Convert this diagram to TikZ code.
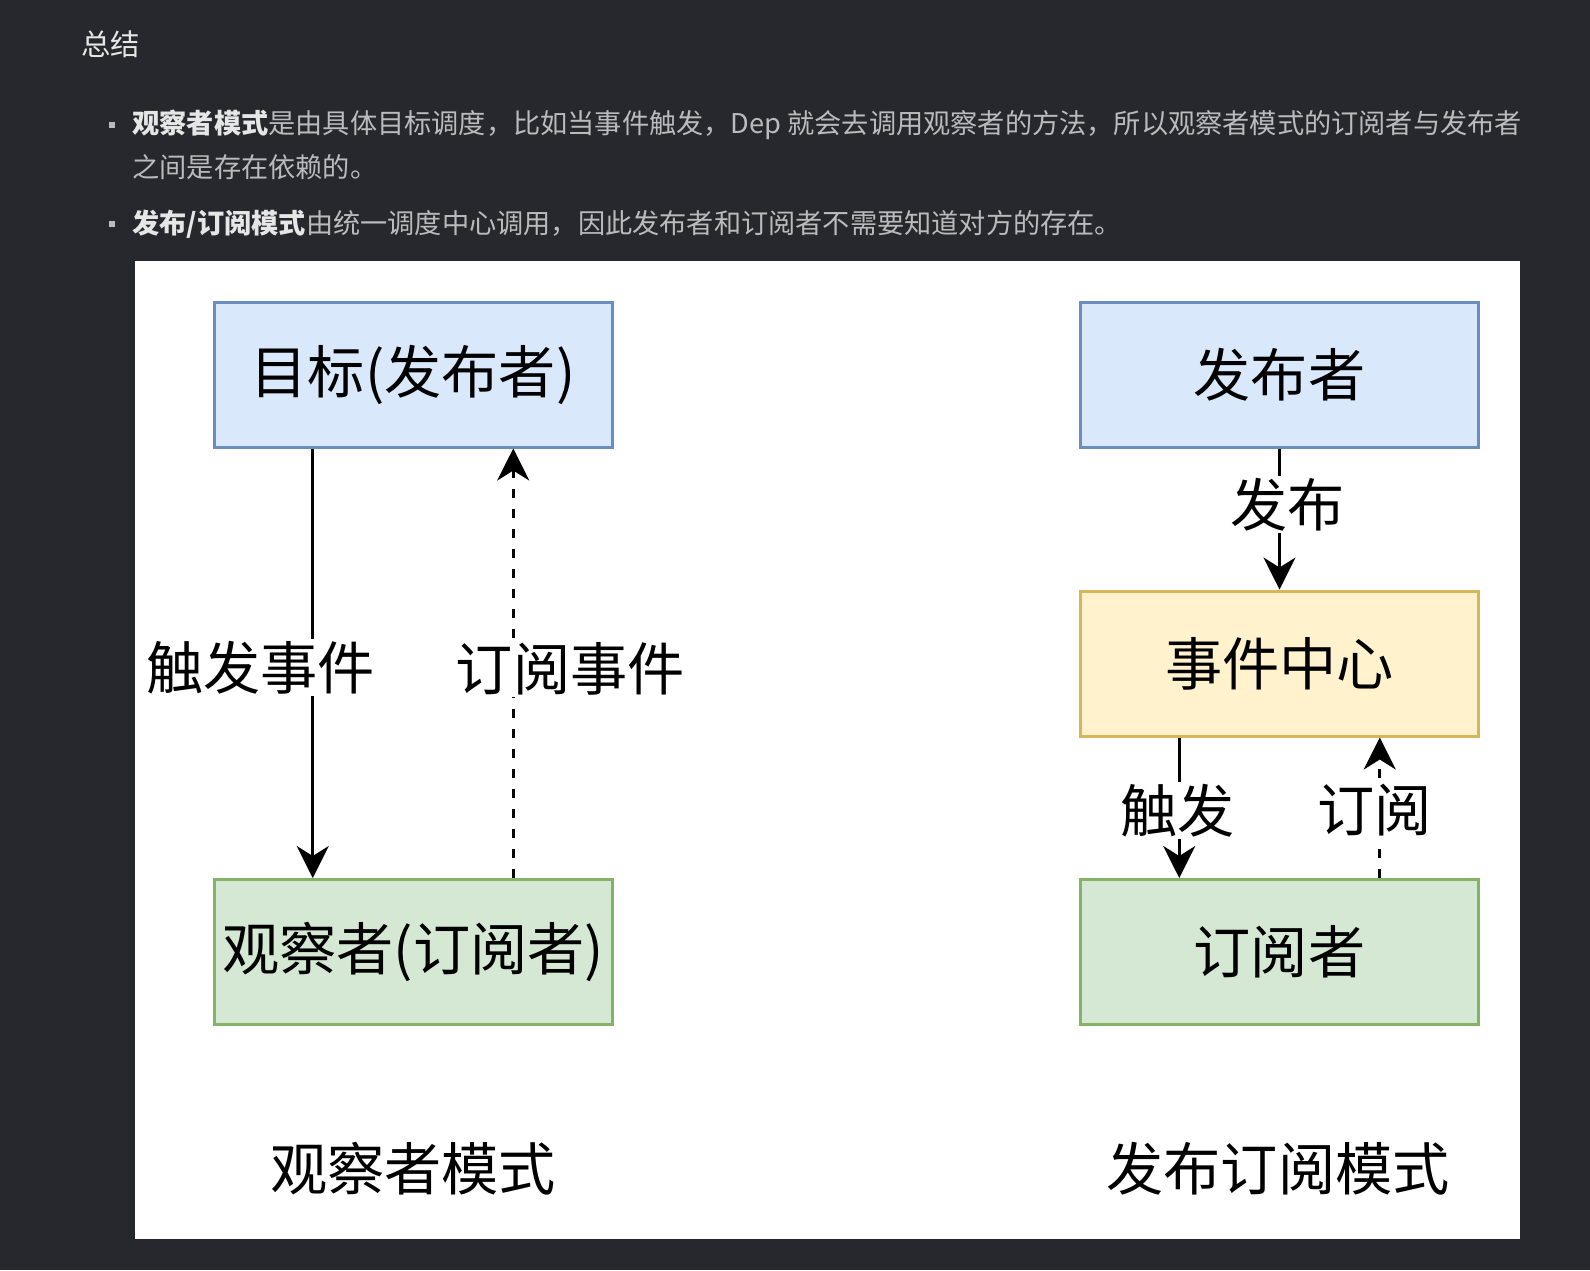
\documentclass[tikz,border=0pt]{standalone}
\usepackage{fontspec}
\setmainfont{Noto Sans CJK SC}
\usepackage{tikz}
\usetikzlibrary{calc, arrows.meta, positioning}

\definecolor{pagebg}{HTML}{26282D}
\definecolor{notegray}{HTML}{B9BBBE}
\definecolor{noteheavy}{HTML}{E6E6E6}
\definecolor{blueFill}{HTML}{DAE8FC}
\definecolor{blueLine}{HTML}{6C8EBF}
\definecolor{greenFill}{HTML}{D5E8D4}
\definecolor{greenLine}{HTML}{82B366}
\definecolor{yellowFill}{HTML}{FFF2CC}
\definecolor{yellowLine}{HTML}{D6B656}

\newcommand{\diagtxt}{\fontsize{28.6pt}{34pt}\selectfont}
\newcommand{\notetxt}{\fontsize{13.6pt}{16pt}\selectfont}

\tikzset{
	box/.style={draw, line width=1.5pt, minimum width=199pt, minimum height=72.5pt, inner sep=0pt, font=\diagtxt},
	bluebox/.style={box, fill=blueFill, draw=blueLine},
	greenbox/.style={box, fill=greenFill, draw=greenLine},
	yellowbox/.style={box, fill=yellowFill, draw=yellowLine},
	flow/.style={line width=1.4pt, -{Stealth[length=16pt, width=16pt, inset=5pt]}},
	dashflow/.style={flow, dash pattern=on 4.5pt off 5.5pt},
	lbl/.style={fill=white, inner sep=1pt, font=\diagtxt, text=black},
	note/.style={anchor=west, inner sep=0pt, font=\notetxt, text=notegray},
}

\begin{document}
\begin{tikzpicture}[x=0.5pt, y=-0.5pt]
	% page and panel
	\fill[pagebg] (0, 0) rectangle (1590, 1270);
	\useasboundingbox (0, 0) rectangle (1590, 1270);
	\fill[white] (135, 261) rectangle (1520, 1239);

	% text above the diagram
	\node[anchor=west, inner sep=0pt, text=noteheavy, font=\fontsize{14.7pt}{17pt}\selectfont] (title) at (81, 44) {总结};
	\fill[notegray] (109, 122) rectangle ++(6, 6);
	\fill[notegray] (109, 221) rectangle ++(6, 6);
	\node[note] (lineA) at (132, 125) {\textcolor{noteheavy}{\bfseries 观察者模式}是由具体目标调度，比如当事件触发，Dep 就会去调用观察者的方法，所以观察者模式的订阅者与发布者};
	\node[note] (lineB) at (132, 167) {之间是存在依赖的。};
	\node[note] (lineC) at (132, 224) {\textcolor{noteheavy}{\bfseries 发布/订阅模式}由统一调度中心调用，因此发布者和订阅者不需要知道对方的存在。};

	% observer pattern
	\node[bluebox] (target) at (413, 374.5) {目标(发布者)};
	\node[greenbox] (observer) at (413, 952) {观察者(订阅者)};
	\draw[flow] ($(target.south west)!.25!(target.south east)$) -- ($(observer.north west)!.25!(observer.north east)$)
		node[lbl, pos=.51, xshift=-26pt] (fire) {触发事件};
	\draw[dashflow] ($(observer.north west)!.75!(observer.north east)$) -- ($(target.south west)!.75!(target.south east)$)
		node[lbl, pos=.487, xshift=28.5pt] (listen) {订阅事件};
	\node[font=\diagtxt] (obscap) at (413, 1169) {观察者模式};

	% publish / subscribe pattern
	\node[bluebox] (pub) at (1279.5, 374.5) {发布者};
	\node[yellowbox] (hub) at (1279.5, 663.5) {事件中心};
	\node[greenbox] (sub) at (1279.5, 952) {订阅者};
	\draw[flow] (pub) -- (hub) node[lbl, pos=.40, xshift=4pt] (publish) {发布};
	\draw[flow] ($(hub.south west)!.25!(hub.south east)$) -- ($(sub.north west)!.25!(sub.north east)$)
		node[lbl, pos=.52, xshift=-1pt] (trigger) {触发};
	\draw[dashflow] ($(sub.north west)!.75!(sub.north east)$) -- ($(hub.south west)!.75!(hub.south east)$)
		node[lbl, pos=.48, xshift=-2.5pt] (subscribe) {订阅};
	\node[font=\diagtxt] (pscap) at (1278, 1169) {发布订阅模式};
\end{tikzpicture}
\end{document}
